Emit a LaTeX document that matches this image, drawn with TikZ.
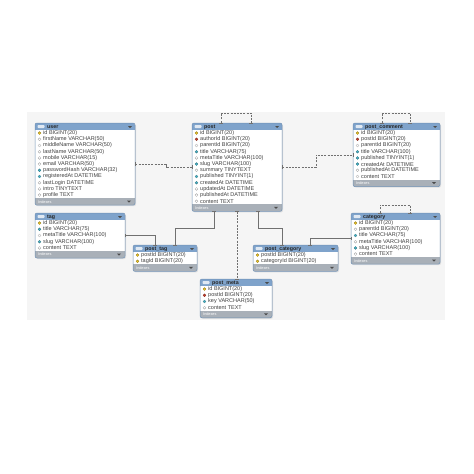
\documentclass[tikz,border=0pt]{standalone}
\usepackage{fontspec}
\setmainfont{Liberation Sans}
\usetikzlibrary{arrows.meta,shapes.geometric}
\definecolor{hdr}{HTML}{7FA3CB}
\definecolor{ftr}{HTML}{A9B0B8}
\definecolor{bord}{HTML}{7091B5}
\definecolor{panel}{HTML}{F5F5F5}
\definecolor{lnk}{HTML}{707070}
\definecolor{nn}{HTML}{45B3C8}
\definecolor{fk}{HTML}{C8402F}
\definecolor{pk}{HTML}{EAC428}
\definecolor{wh}{HTML}{FFFFFF}
\tikzset{
  rowtxt/.style={font=\fontsize{5.5}{6}\selectfont, text=black!75, inner sep=0, anchor=west},
  ttl/.style={font=\bfseries\fontsize{5.3}{6}\selectfont, text=black!85, inner sep=0, anchor=base west},
  idx/.style={font=\fontsize{3.8}{4}\selectfont, text=white, inner sep=0, anchor=base west},
  tblnode/.style={inner sep=0, outer sep=0, draw=none, anchor=north west},
  icod/.style={diamond, inner sep=0, minimum size=3pt, line width=0.25pt},
  link/.style={draw=lnk, line width=0.45pt},
  nonid/.style={link, dash pattern=on 2pt off 1.2pt},
  ends/.style={{Bar[width=3.5pt]}-{Bar[width=3.5pt]}},
}
\newcommand\ertable[7]{%
  \pgfmathsetmacro\erh{14+#5*6.2}%
  \fill[black!13, rounded corners=2pt] (#2+1,#3+1) rectangle (#2+#4+1,#3+\erh+1);
  \begin{scope}
    \clip[rounded corners=2pt] (#2,#3) rectangle (#2+#4,#3+\erh);
    \fill[hdr] (#2,#3) rectangle (#2+#4,#3+7);
    \fill[white] (#2,#3+7) rectangle (#2+#4,#3+\erh-7);
    \fill[ftr] (#2,#3+\erh-7) rectangle (#2+#4,#3+\erh);
  \end{scope}
  \draw[bord, line width=0.5pt, rounded corners=2pt] (#2,#3) rectangle (#2+#4,#3+\erh);
  \fill[white!75!hdr, rounded corners=0.8pt] (#2+2.5,#3+2) rectangle (#2+9.5,#3+5);
  \node[ttl] at (#2+12,#3+5.4) {#6};
  \fill[black!70] (#2+#4-7,#3+3) -- (#2+#4-3,#3+3) -- (#2+#4-5,#3+5) -- cycle;
  \node[idx] at (#2+3,#3+\erh-2.2) {Indexes};
  \fill[black!70] (#2+#4-8,#3+\erh-4.5) -- (#2+#4-4,#3+\erh-4.5) -- (#2+#4-6,#3+\erh-2.5) -- cycle;
  \foreach[count=\i] \k/\t in {#7} {
    \pgfmathsetmacro\ry{#3+7+(\i-0.5)*6.2}
    \node[icod, fill=\k, draw=\k!60!black] at (#2+4.5,\ry) {};
    \node[rowtxt] at (#2+8,\ry) {\t};
  }
  \node[tblnode, minimum width=#4pt, minimum height=\erh pt] (#1) at (#2,#3) {};
}
\begin{document}
\begin{tikzpicture}[x=1pt,y=-1pt]
\fill[white] (0,0) rectangle (474,474);
\useasboundingbox (0,0) rectangle (474,474);
\fill[panel] (27,112) rectangle (445,320);

\ertable{user}{35}{123}{100}{11}{user}{
  pk/id BIGINT(20),
  wh/firstName VARCHAR(50),
  wh/middleName VARCHAR(50),
  wh/lastName VARCHAR(50),
  wh/mobile VARCHAR(15),
  wh/email VARCHAR(50),
  nn/passwordHash VARCHAR(32),
  nn/registeredAt DATETIME,
  wh/lastLogin DATETIME,
  wh/intro TINYTEXT,
  wh/profile TEXT}

\ertable{post}{192}{123}{90}{12}{post}{
  pk/id BIGINT(20),
  fk/authorId BIGINT(20),
  wh/parentId BIGINT(20),
  nn/title VARCHAR(75),
  wh/metaTitle VARCHAR(100),
  nn/slug VARCHAR(100),
  wh/summary TINYTEXT,
  nn/published TINYINT(1),
  nn/createdAt DATETIME,
  wh/updatedAt DATETIME,
  wh/publishedAt DATETIME,
  wh/content TEXT}

\ertable{postcomment}{353}{123}{87}{8}{post\_comment}{
  pk/id BIGINT(20),
  fk/postId BIGINT(20),
  wh/parentId BIGINT(20),
  nn/title VARCHAR(100),
  nn/published TINYINT(1),
  nn/createdAt DATETIME,
  wh/publishedAt DATETIME,
  wh/content TEXT}

\ertable{tag}{35}{213}{90}{5}{tag}{
  pk/id BIGINT(20),
  nn/title VARCHAR(75),
  wh/metaTitle VARCHAR(100),
  nn/slug VARCHAR(100),
  wh/content TEXT}

\ertable{posttag}{133}{245}{64}{2}{post\_tag}{
  pk/postId BIGINT(20),
  pk/tagId BIGINT(20)}

\ertable{postmeta}{200}{279}{72}{4}{post\_meta}{
  pk/id BIGINT(20),
  fk/postId BIGINT(20),
  nn/key VARCHAR(50),
  wh/content TEXT}

\ertable{postcategory}{253}{245}{85}{2}{post\_category}{
  pk/postId BIGINT(20),
  pk/categoryId BIGINT(20)}

\ertable{category}{351}{213}{89}{6}{category}{
  pk/id BIGINT(20),
  wh/parentId BIGINT(20),
  nn/title VARCHAR(75),
  wh/metaTitle VARCHAR(100),
  nn/slug VARCHAR(100),
  wh/content TEXT}

% relationships
\draw[nonid, ends] (user.east) -- ++(31,0) |- (post.west);
\draw[nonid, ends] ([xshift=-16pt]post.north) -- ++(0,-10) -| ([xshift=14pt]post.north);
\draw[nonid, ends] (post.east) -- ++(34,0) |- (postcomment.west);
\draw[nonid, ends] ([xshift=-14.5pt]postcomment.north) -- ++(0,-10) -| ([xshift=13.5pt]postcomment.north);
\draw[nonid, ends] ([xshift=-15.5pt]category.north) -- ++(0,-8) -| ([xshift=14.5pt]category.north);
\draw[link, ends] ([xshift=-23pt]post.south) -- ++(0,17) -| ([xshift=10pt]posttag.north);
\draw[link, ends] (tag.east) -| ([xshift=-10pt]posttag.north);
\draw[nonid, ends] (post.south) -- (post.south |- postmeta.north);
\draw[link, ends] ([xshift=21pt]post.south) -- ++(0,17) -| ([xshift=-13.5pt]postcategory.north);
\draw[link, ends] (category.west) -| ([xshift=14.5pt]postcategory.north);
\end{tikzpicture}
\end{document}
